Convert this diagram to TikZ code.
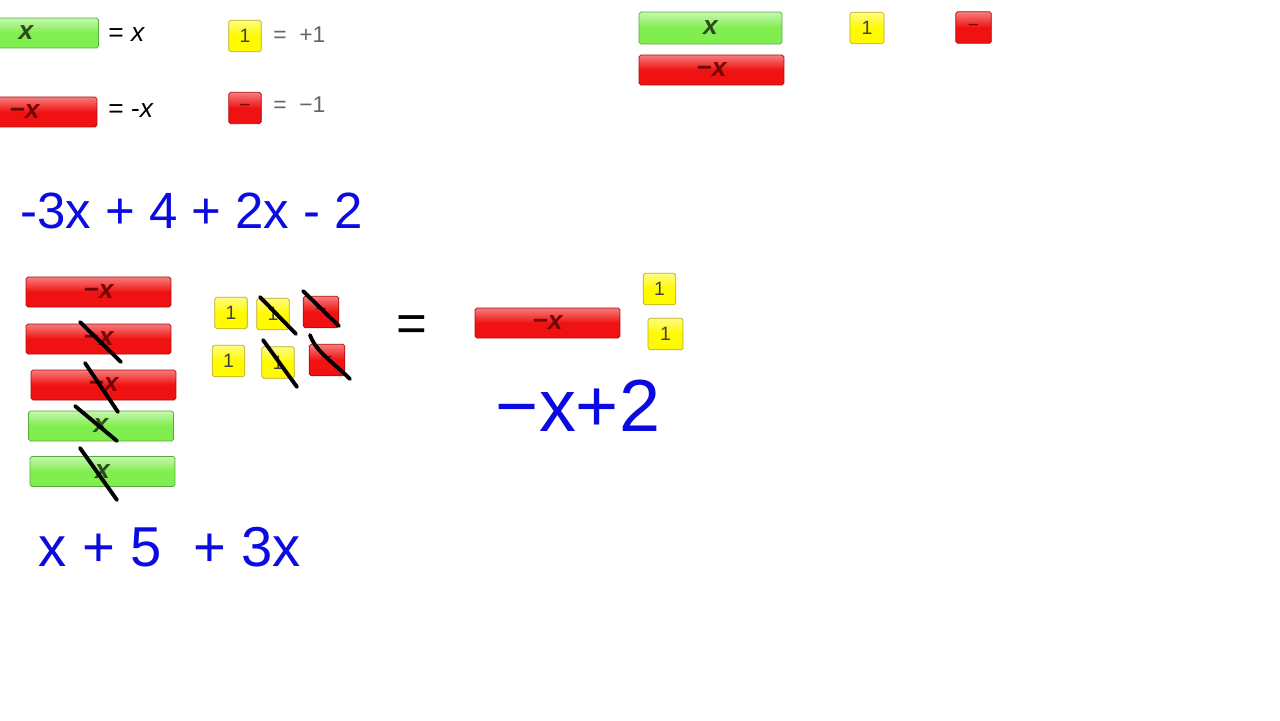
\documentclass[tikz,border=0pt]{standalone}
\usepackage{fontspec}
\setmainfont{Liberation Sans}
\definecolor{bargreen}{RGB}{128,238,78}
\definecolor{bargreenline}{RGB}{86,170,60}
\definecolor{bargreentext}{RGB}{45,75,30}
\definecolor{barred}{RGB}{240,18,18}
\definecolor{barredline}{RGB}{170,10,10}
\definecolor{barredtext}{RGB}{115,5,5}
\definecolor{tileyellow}{RGB}{255,250,0}
\definecolor{tileyellowline}{RGB}{185,170,40}
\definecolor{inkblue}{RGB}{10,10,225}

\begin{document}
\begin{tikzpicture}
[x=0.02cm,y=-0.02cm,%
  every node/.style={inner sep=0pt},%
  bar/.style={rectangle,minimum width=2.9cm,minimum height=0.6cm,rounded corners=1pt,
    font=\fontsize{15}{18}\selectfont\bfseries\itshape},%
  posbar/.style={bar,draw=bargreenline,top color=bargreen!45!white,bottom color=bargreen,middle color=bargreen,text=bargreentext},%
  negbar/.style={bar,draw=barredline,top color=barred!55!white,bottom color=barred,middle color=barred,text=barredtext},%
  tile/.style={rectangle,minimum width=0.65cm,minimum height=0.63cm,rounded corners=1pt,
    font=\fontsize{11}{13}\selectfont},%
  postile/.style={tile,draw=tileyellowline,top color=tileyellow!50!white,bottom color=tileyellow,middle color=tileyellow,text=black!75},%
  negtile/.style={tile,minimum width=0.71cm,draw=barredline,top color=barred!55!white,bottom color=barred,middle color=barred,text=barredtext},%
  legend/.style={anchor=west,font=\fontsize{15}{18}\selectfont},%
  legendone/.style={anchor=west,text=black!60,font=\fontsize{13}{16}\selectfont},%
  expr/.style={anchor=base west,text=inkblue,font=\fontsize{29}{34}\selectfont},%
  strike/.style={line width=2.2pt,line cap=round,black}]
\useasboundingbox[fill=white] (0,0) rectangle (1280,720);
\clip (0,0) rectangle (1280,720);
% key
\node[posbar] (keyx) at (26,33) {x};
\node[legend] (keyxtext) at (108,35) {= \textit{x}};
\node[negbar] (keynegx) at (24.5,112) {−x};
\node[legend] (keynegxtext) at (108,111) {= -\textit{x}};
\node[postile] (keyone) at (245,36) {1};
\node[legendone] (keyonetext) at (273,35) {=\ \ +1};
\node[negtile,minimum width=0.65cm] (keynegone) at (245,108) {−};
\node[legendone] (keynegonetext) at (273,105) {=\ \ −1};
% tray
\node[posbar,minimum width=2.86cm,minimum height=0.64cm] (trayx) at (710.5,28) {x};
\node[negbar] (traynegx) at (711.5,70) {−x};
\node[postile,minimum width=0.68cm] (trayone) at (867,28) {1};
\node[negtile] (traynegone) at (973.5,27.5) {−};
% problem
\node[expr] (problem) at (20,228) {-3x + 4 + 2x - 2};
\node[negbar] (bara) at (98.5,292) {−x};
\node[negbar] (barb) at (98.5,339) {−x};
\node[negbar] (barc) at (103.5,385) {−x};
\node[posbar] (bard) at (101,426) {x};
\node[posbar] (bare) at (102.5,471.5) {x};
\node[postile] (onea) at (231,313) {1};
\node[postile] (oneb) at (273,314) {1};
\node[negtile] (negonea) at (321,312) {−};
\node[postile] (onec) at (228.5,361) {1};
\node[postile] (oned) at (278,362.5) {1};
\node[negtile] (negoneb) at (327,360) {−};
\foreach \xa/\ya/\xb/\yb in {80/322/121/362,85/363/118/412,75/406/117/441,80/448/117/500,
  260/297/296/334,303/291/339/326,263/340/297/387}
  \draw[strike] (\xa,\ya) -- (\xb,\yb);
\draw[strike] (310,335) .. controls (316,352) and (334,363) .. (350,379);
\node[font=\fontsize{30}{36}\selectfont] (equals) at (412,329) {=};
% answer
\node[negbar] (answerbar) at (547.5,323) {−x};
\node[postile] (answerone) at (659.5,289) {1};
\node[postile,minimum width=0.7cm] (answertwo) at (665.5,334) {1};
\node[text=inkblue,font=\fontsize{42}{48}\selectfont] (answer) at (578,406) {−x+2};
\node[expr,font=\fontsize{32}{38}\selectfont] (check) at (38,566) {x + 5\ \ + 3x};
\end{tikzpicture}
\end{document}
